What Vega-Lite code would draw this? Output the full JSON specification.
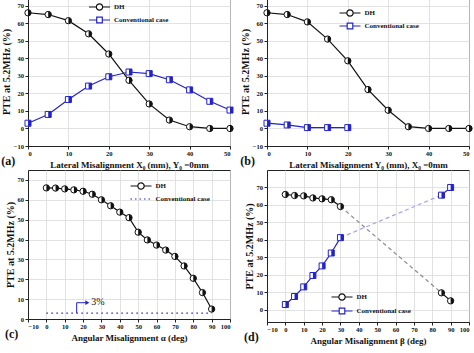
{
  "$schema": "https://vega.github.io/schema/vega-lite/v6.json",
  "padding": {"left": 0, "top": -4, "right": 1, "bottom": 0},
  "background": "white",
  "datasets": {
    "a": [
      {"series": "DH", "x": 0, "y": 66}, {"series": "DH", "x": 5, "y": 65}, {"series": "DH", "x": 10, "y": 61.5},
      {"series": "DH", "x": 15, "y": 54}, {"series": "DH", "x": 20, "y": 42.5}, {"series": "DH", "x": 25, "y": 27.5},
      {"series": "DH", "x": 30, "y": 14}, {"series": "DH", "x": 35, "y": 4.8}, {"series": "DH", "x": 40, "y": 1},
      {"series": "DH", "x": 45, "y": 0}, {"series": "DH", "x": 50, "y": 0},
      {"series": "Conventional case", "x": 0, "y": 3}, {"series": "Conventional case", "x": 5, "y": 8},
      {"series": "Conventional case", "x": 10, "y": 16.5}, {"series": "Conventional case", "x": 15, "y": 24.2},
      {"series": "Conventional case", "x": 20, "y": 29.5}, {"series": "Conventional case", "x": 25, "y": 32.2},
      {"series": "Conventional case", "x": 30, "y": 31.3}, {"series": "Conventional case", "x": 35, "y": 27.8},
      {"series": "Conventional case", "x": 40, "y": 22}, {"series": "Conventional case", "x": 45, "y": 15.5},
      {"series": "Conventional case", "x": 50, "y": 10.5}
    ],
    "b": [
      {"series": "DH", "x": 0, "y": 66}, {"series": "DH", "x": 5, "y": 65}, {"series": "DH", "x": 10, "y": 60.8},
      {"series": "DH", "x": 15, "y": 51}, {"series": "DH", "x": 20, "y": 38.6}, {"series": "DH", "x": 25, "y": 22.2},
      {"series": "DH", "x": 30, "y": 10.4}, {"series": "DH", "x": 35, "y": 1}, {"series": "DH", "x": 40, "y": 0},
      {"series": "DH", "x": 45, "y": 0}, {"series": "DH", "x": 50, "y": 0},
      {"series": "Conventional case", "x": 0, "y": 3}, {"series": "Conventional case", "x": 5, "y": 2},
      {"series": "Conventional case", "x": 10, "y": 0.5}, {"series": "Conventional case", "x": 15, "y": 0.5},
      {"series": "Conventional case", "x": 20, "y": 0.5}
    ],
    "c": [
      {"series": "DH", "x": 0, "y": 66}, {"series": "DH", "x": 5, "y": 65.9}, {"series": "DH", "x": 10, "y": 65.5},
      {"series": "DH", "x": 15, "y": 65}, {"series": "DH", "x": 20, "y": 64.3}, {"series": "DH", "x": 25, "y": 62.8},
      {"series": "DH", "x": 30, "y": 60}, {"series": "DH", "x": 35, "y": 57}, {"series": "DH", "x": 40, "y": 53.8},
      {"series": "DH", "x": 45, "y": 51}, {"series": "DH", "x": 50, "y": 43.7}, {"series": "DH", "x": 55, "y": 39.8},
      {"series": "DH", "x": 60, "y": 37.2}, {"series": "DH", "x": 65, "y": 34.7}, {"series": "DH", "x": 70, "y": 31.5},
      {"series": "DH", "x": 75, "y": 26.7}, {"series": "DH", "x": 80, "y": 20.5}, {"series": "DH", "x": 85, "y": 13.3},
      {"series": "DH", "x": 90, "y": 5},
      {"series": "Conventional case", "x": 0, "y": 3}, {"series": "Conventional case", "x": 90, "y": 3}
    ],
    "c_note": [
      {"x": 16.5, "y": 3}, {"x": 16.5, "y": 8.2}, {"x": 21.5, "y": 8.2}
    ],
    "c_head": [{"x": 22.3, "y": 8.2}],
    "c_text": [{"x": 24.5, "y": 8.5, "label": "3%"}],
    "d": [
      {"series": "DH", "seg": "s1", "x": 0, "y": 66}, {"series": "DH", "seg": "s1", "x": 5, "y": 65.4},
      {"series": "DH", "seg": "s1", "x": 10, "y": 65.2}, {"series": "DH", "seg": "s1", "x": 15, "y": 64},
      {"series": "DH", "seg": "s1", "x": 20, "y": 63.5}, {"series": "DH", "seg": "s1", "x": 25, "y": 63},
      {"series": "DH", "seg": "s1", "x": 30, "y": 59.1}, {"series": "DH", "seg": "s2", "x": 85, "y": 9.7},
      {"series": "DH", "seg": "s2", "x": 90, "y": 5.1},
      {"series": "Conventional case", "seg": "s1", "x": 0, "y": 3}, {"series": "Conventional case", "seg": "s1", "x": 5, "y": 7.6},
      {"series": "Conventional case", "seg": "s1", "x": 10, "y": 13.1}, {"series": "Conventional case", "seg": "s1", "x": 15, "y": 19.6},
      {"series": "Conventional case", "seg": "s1", "x": 20, "y": 25.1}, {"series": "Conventional case", "seg": "s1", "x": 25, "y": 32.5},
      {"series": "Conventional case", "seg": "s1", "x": 30, "y": 41.3}, {"series": "Conventional case", "seg": "s2", "x": 85, "y": 65.6},
      {"series": "Conventional case", "seg": "s2", "x": 90, "y": 70}
    ]
  },
  "columns": 2,
  "spacing": {"row": -1, "column": 3},
  "resolve": {
    "scale": {"x": "independent", "y": "independent", "stroke": "independent", "shape": "independent", "strokeDash": "independent"},
    "legend": {"stroke": "independent", "shape": "independent", "strokeDash": "independent"}
  },
  "concat": [
    {
      "width": 202, "height": 149,
      "title": {"text": "(a)", "orient": "bottom", "anchor": "start", "frame": "bounds", "offset": -13},
      "data": {"name": "a"},
      "encoding": {
        "x": {"field": "x", "type": "quantitative", "scale": {"domain": [0, 50], "nice": false}, "axis": {"title": "Lateral Misalignment X₀ (mm), Y₀ =0mm", "values": [0, 10, 20, 30, 40, 50]}},
        "y": {"field": "y", "type": "quantitative", "scale": {"domain": [-10, 75], "nice": false}, "axis": {"title": "PTE at 5.2MHz (%)", "values": [-10, 0, 10, 20, 30, 40, 50, 60, 70]}}
      },
      "layer": [
        {"transform": [{"filter": "datum.series === 'DH'"}], "mark": {"type": "line", "strokeWidth": 1.2, "color": "#111111"}, "encoding": {}},
        {"transform": [{"filter": "datum.series !== 'DH'"}], "mark": {"type": "line", "strokeWidth": 1.2, "color": "#2323cc"}, "encoding": {}},
        {"transform": [{"filter": "datum.series === 'DH'"}], "mark": {"type": "point", "shape": "circle", "filled": true, "fill": "white", "stroke": "#111111", "strokeWidth": 1, "size": 40, "opacity": 1}},
        {"transform": [{"filter": "datum.series === 'DH'"}], "mark": {"type": "point", "shape": "M0,-1A1,1 0 0,1 0,1Z", "filled": true, "fill": "#111111", "strokeWidth": 0, "size": 40, "opacity": 1}},
        {"transform": [{"filter": "datum.series !== 'DH'"}], "mark": {"type": "point", "shape": "square", "filled": true, "fill": "white", "stroke": "#2323cc", "strokeWidth": 1, "size": 36, "opacity": 1}},
        {"transform": [{"filter": "datum.series !== 'DH'"}], "mark": {"type": "point", "shape": "M0,-1L1,-1L1,1L0,1Z", "filled": true, "fill": "#2323cc", "strokeWidth": 0, "size": 36, "opacity": 1}},
        {"transform": [{"filter": "datum.x < -1000"}], "mark": {"type": "point", "filled": false, "fill": "white", "opacity": 1, "strokeWidth": 1.2},
          "encoding": {
            "shape": {"field": "series", "type": "nominal", "scale": {"domain": ["DH", "Conventional case"], "range": ["M-3,0L-0.9,0M0.9,0L3,0M-0.9,0A0.9,0.9 0 1,1 0.9,0A0.9,0.9 0 1,1 -0.9,0Z", "M-3,0L-0.8,0M0.8,0L3,0M-0.8,-0.8L0.8,-0.8L0.8,0.8L-0.8,0.8Z"]}, "legend": {"orient": "none", "legendX": 67, "legendY": 5.5}},
            "stroke": {"field": "series", "type": "nominal", "scale": {"domain": ["DH", "Conventional case"], "range": ["#111111", "#2323cc"]}, "legend": {"orient": "none", "legendX": 67, "legendY": 5.5}}
          }
        }
      ]
    },
    {
      "width": 202, "height": 149,
      "title": {"text": "(b)", "orient": "bottom", "anchor": "start", "frame": "bounds", "offset": -13},
      "data": {"name": "b"},
      "encoding": {
        "x": {"field": "x", "type": "quantitative", "scale": {"domain": [0, 50], "nice": false}, "axis": {"title": "Lateral Misalignment Y₀ (mm), X₀ =0mm", "values": [0, 10, 20, 30, 40, 50]}},
        "y": {"field": "y", "type": "quantitative", "scale": {"domain": [-10, 75], "nice": false}, "axis": {"title": "PTE at 5.2MHz (%)", "values": [-10, 0, 10, 20, 30, 40, 50, 60, 70]}}
      },
      "layer": [
        {"transform": [{"filter": "datum.series === 'DH'"}], "mark": {"type": "line", "strokeWidth": 1.2, "color": "#111111"}, "encoding": {}},
        {"transform": [{"filter": "datum.series !== 'DH'"}], "mark": {"type": "line", "strokeWidth": 1.2, "color": "#2323cc"}, "encoding": {}},
        {"transform": [{"filter": "datum.series === 'DH'"}], "mark": {"type": "point", "shape": "circle", "filled": true, "fill": "white", "stroke": "#111111", "strokeWidth": 1, "size": 40, "opacity": 1}},
        {"transform": [{"filter": "datum.series === 'DH'"}], "mark": {"type": "point", "shape": "M0,-1A1,1 0 0,1 0,1Z", "filled": true, "fill": "#111111", "strokeWidth": 0, "size": 40, "opacity": 1}},
        {"transform": [{"filter": "datum.series !== 'DH'"}], "mark": {"type": "point", "shape": "square", "filled": true, "fill": "white", "stroke": "#2323cc", "strokeWidth": 1, "size": 36, "opacity": 1}},
        {"transform": [{"filter": "datum.series !== 'DH'"}], "mark": {"type": "point", "shape": "M0,-1L1,-1L1,1L0,1Z", "filled": true, "fill": "#2323cc", "strokeWidth": 0, "size": 36, "opacity": 1}},
        {"transform": [{"filter": "datum.x < -1000"}], "mark": {"type": "point", "filled": false, "fill": "white", "opacity": 1, "strokeWidth": 1.2},
          "encoding": {
            "shape": {"field": "series", "type": "nominal", "scale": {"domain": ["DH", "Conventional case"], "range": ["M-3,0L-0.9,0M0.9,0L3,0M-0.9,0A0.9,0.9 0 1,1 0.9,0A0.9,0.9 0 1,1 -0.9,0Z", "M-3,0L-0.8,0M0.8,0L3,0M-0.8,-0.8L0.8,-0.8L0.8,0.8L-0.8,0.8Z"]}, "legend": {"orient": "none", "legendX": 78.5, "legendY": 11.5}},
            "stroke": {"field": "series", "type": "nominal", "scale": {"domain": ["DH", "Conventional case"], "range": ["#111111", "#2323cc"]}, "legend": {"orient": "none", "legendX": 78.5, "legendY": 11.5}}
          }
        }
      ]
    },
    {
      "width": 202, "height": 149,
      "title": {"text": "(c)", "orient": "bottom", "anchor": "start", "frame": "bounds", "offset": -13},
      "encoding": {
        "x": {"field": "x", "type": "quantitative", "scale": {"domain": [-10, 100], "nice": false}, "axis": {"title": "Angular Misalignment α  (deg)", "values": [-10, 0, 10, 20, 30, 40, 50, 60, 70, 80, 90, 100]}},
        "y": {"field": "y", "type": "quantitative", "scale": {"domain": [0, 75], "nice": false}, "axis": {"title": "PTE at 5.2MHz (%)", "values": [0, 10, 20, 30, 40, 50, 60, 70]}}
      },
      "layer": [
        {"data": {"name": "c"}, "transform": [{"filter": "datum.series === 'DH'"}], "mark": {"type": "line", "strokeWidth": 1.2, "color": "#111111"}, "encoding": {}},
        {"data": {"name": "c"}, "transform": [{"filter": "datum.series !== 'DH'"}], "mark": {"type": "line", "strokeWidth": 1.3, "color": "#2323cc", "strokeDash": [1.5, 3.5]}, "encoding": {}},
        {"data": {"name": "c_note"}, "mark": {"type": "line", "strokeWidth": 1, "color": "#2323cc"}, "encoding": {"order": {"value": 0}}},
        {"data": {"name": "c_head"}, "mark": {"type": "point", "shape": "triangle-right", "filled": true, "color": "#2323cc", "size": 22, "opacity": 1}},
        {"data": {"name": "c_text"}, "mark": {"type": "text", "align": "left", "baseline": "middle", "fontSize": 10, "font": "Liberation Serif", "color": "#111111"}, "encoding": {"text": {"field": "label"}}},
        {"data": {"name": "c"}, "transform": [{"filter": "datum.series === 'DH'"}], "mark": {"type": "point", "shape": "circle", "filled": true, "fill": "white", "stroke": "#111111", "strokeWidth": 1, "size": 40, "opacity": 1}},
        {"data": {"name": "c"}, "transform": [{"filter": "datum.series === 'DH'"}], "mark": {"type": "point", "shape": "M0,-1A1,1 0 0,1 0,1Z", "filled": true, "fill": "#111111", "strokeWidth": 0, "size": 40, "opacity": 1}},
        {"data": {"name": "c"}, "transform": [{"filter": "datum.x < -1000"}], "mark": {"type": "point", "filled": false, "fill": "white", "opacity": 1, "strokeWidth": 1.2},
          "encoding": {
            "shape": {"field": "series", "type": "nominal", "scale": {"domain": ["DH", "Conventional case"], "range": ["M-3,0L-0.9,0M0.9,0L3,0M-0.9,0A0.9,0.9 0 1,1 0.9,0A0.9,0.9 0 1,1 -0.9,0Z", "M-3,0L3,0"]}, "legend": {"orient": "none", "legendX": 108.5, "legendY": 11.5, "rowPadding": 2}},
            "stroke": {"field": "series", "type": "nominal", "scale": {"domain": ["DH", "Conventional case"], "range": ["#111111", "#2323cc"]}, "legend": {"orient": "none", "legendX": 108.5, "legendY": 11.5, "rowPadding": 2}},
            "strokeDash": {"field": "series", "type": "nominal", "scale": {"domain": ["DH", "Conventional case"], "range": [[1, 0], [1.5, 3]]}, "legend": {"orient": "none", "legendX": 108.5, "legendY": 11.5, "rowPadding": 2}}
          }
        }
      ]
    },
    {
      "width": 202, "height": 152,
      "title": {"text": "(d)", "orient": "bottom", "anchor": "start", "frame": "bounds", "offset": -13},
      "data": {"name": "d"},
      "encoding": {
        "x": {"field": "x", "type": "quantitative", "scale": {"domain": [-10, 100], "nice": false}, "axis": {"title": "Angular Misalignment β (deg)", "values": [-10, 0, 10, 20, 30, 40, 50, 60, 70, 80, 90, 100]}},
        "y": {"field": "y", "type": "quantitative", "scale": {"domain": [-7, 80], "nice": false}, "axis": {"title": "PTE at 5.2MHz  (%)", "values": [0, 10, 20, 30, 40, 50, 60, 70]}}
      },
      "layer": [
        {"transform": [{"filter": "datum.series === 'DH' && (datum.x === 30 || datum.x === 85)"}], "mark": {"type": "line", "strokeWidth": 1.2, "color": "#8c8c8c", "strokeDash": [4, 3]}, "encoding": {}},
        {"transform": [{"filter": "datum.series !== 'DH' && (datum.x === 30 || datum.x === 85)"}], "mark": {"type": "line", "strokeWidth": 1.2, "color": "#a3a3ea", "strokeDash": [4, 3]}, "encoding": {}},
        {"transform": [{"filter": "datum.series === 'DH'"}], "mark": {"type": "line", "strokeWidth": 1.2, "color": "#111111"}, "encoding": {"detail": {"field": "seg"}}},
        {"transform": [{"filter": "datum.series !== 'DH'"}], "mark": {"type": "line", "strokeWidth": 1.2, "color": "#2323cc"}, "encoding": {"detail": {"field": "seg"}}},
        {"transform": [{"filter": "datum.series === 'DH'"}], "mark": {"type": "point", "shape": "circle", "filled": true, "fill": "white", "stroke": "#111111", "strokeWidth": 1, "size": 40, "opacity": 1}},
        {"transform": [{"filter": "datum.series === 'DH'"}], "mark": {"type": "point", "shape": "M0,-1A1,1 0 0,1 0,1Z", "filled": true, "fill": "#111111", "strokeWidth": 0, "size": 40, "opacity": 1}},
        {"transform": [{"filter": "datum.series !== 'DH'"}], "mark": {"type": "point", "shape": "square", "filled": true, "fill": "white", "stroke": "#2323cc", "strokeWidth": 1, "size": 36, "opacity": 1}},
        {"transform": [{"filter": "datum.series !== 'DH'"}], "mark": {"type": "point", "shape": "M0,-1L1,-1L1,1L0,1Z", "filled": true, "fill": "#2323cc", "strokeWidth": 0, "size": 36, "opacity": 1}},
        {"transform": [{"filter": "datum.x < -1000"}], "mark": {"type": "point", "filled": false, "fill": "white", "opacity": 1, "strokeWidth": 1.2},
          "encoding": {
            "shape": {"field": "series", "type": "nominal", "scale": {"domain": ["DH", "Conventional case"], "range": ["M-3,0L-0.9,0M0.9,0L3,0M-0.9,0A0.9,0.9 0 1,1 0.9,0A0.9,0.9 0 1,1 -0.9,0Z", "M-3,0L-0.8,0M0.8,0L3,0M-0.8,-0.8L0.8,-0.8L0.8,0.8L-0.8,0.8Z"]}, "legend": {"orient": "none", "legendX": 70.5, "legendY": 122.5, "rowPadding": 2}},
            "stroke": {"field": "series", "type": "nominal", "scale": {"domain": ["DH", "Conventional case"], "range": ["#111111", "#2323cc"]}, "legend": {"orient": "none", "legendX": 70.5, "legendY": 122.5, "rowPadding": 2}}
          }
        }
      ]
    }
  ],
  "config": {
    "font": "Liberation Serif",
    "view": {"stroke": "#222222", "strokeWidth": 1},
    "title": {"font": "Liberation Serif", "fontWeight": "bold", "fontSize": 12, "color": "#111111"},
    "axis": {
      "labelFont": "Liberation Serif", "labelFontWeight": "bold", "labelFontSize": 6.5, "labelColor": "#111111",
      "titleFont": "Liberation Serif", "titleFontWeight": "bold", "titleColor": "#111111",
      "domainColor": "#222222", "tickColor": "#222222", "tickSize": 3, "labelPadding": 1.5,
      "grid": true, "gridColor": "#dadada", "gridWidth": 0.8
    },
    "axisX": {"titleFontSize": 9, "titlePadding": 3},
    "axisY": {"titleFontSize": 10, "titlePadding": 2},
    "legend": {
      "title": null, "padding": 0, "rowPadding": 1, "labelOffset": 10, "symbolSize": 49,
      "symbolStrokeWidth": 1.2, "symbolFillColor": "white",
      "labelFont": "Liberation Serif", "labelFontWeight": "bold", "labelFontSize": 7, "labelColor": "#111111"
    }
  }
}
